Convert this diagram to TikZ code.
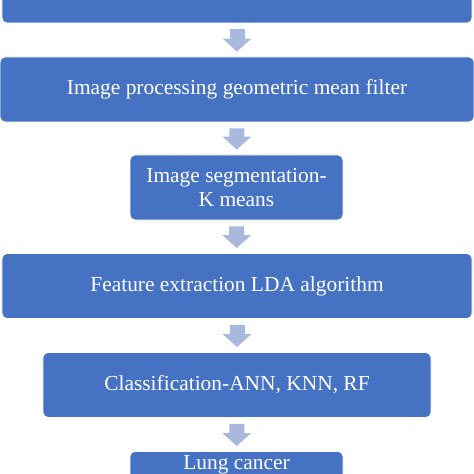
\documentclass[tikz,border=0pt]{standalone}
\usepackage{fontspec}
\setmainfont{Liberation Serif}
\usetikzlibrary{arrows.meta,positioning}
\definecolor{stageblue}{RGB}{70,114,196}
\definecolor{flowgray}{RGB}{169,184,221}

\begin{document}
\begin{tikzpicture}[x=1bp,y=-1bp] % one unit is one pixel of the figure, y grows downwards
\tikzset{stage/.style={draw=white, line width=0.8bp, fill=stageblue, rounded corners=5bp, text=white, font=\fontsize{21.5}{25}\selectfont, align=center, minimum height=65bp, inner sep=0pt}} % blue step boxes
\tikzset{flow/.style={draw=flowgray, line width=15bp, -{Triangle[width=28bp,length=13bp]}, shorten <=6bp, shorten >=5bp}} % pale block arrows
\useasboundingbox (0,0) rectangle (474,474);
\clip (0,0) rectangle (474,474);
\node[stage, minimum width=470bp] (acquire) at (237,-9.5) {};
\node[stage, minimum width=474bp] (filter) at (237,89.5) {Image processing geometric mean filter};
\node[stage, minimum width=213bp] (segment) at (236.5,187.5) {Image segmentation-\\K means};
\node[stage, minimum width=470bp] (feature) at (237,286) {Feature extraction LDA algorithm};
\node[stage, minimum width=388bp] (classify) at (237,385) {Classification-ANN, KNN, RF};
\node[stage, minimum width=213bp, anchor=north, inner ysep=4bp, text depth=50bp] (result) at (236.5,451) {Lung cancer};
\draw[flow] (acquire) -- (filter);
\draw[flow] (filter) -- (segment);
\draw[flow] (segment) -- (feature);
\draw[flow] (feature) -- (classify);
\draw[flow] (classify) -- (result);
\end{tikzpicture}
\end{document}
